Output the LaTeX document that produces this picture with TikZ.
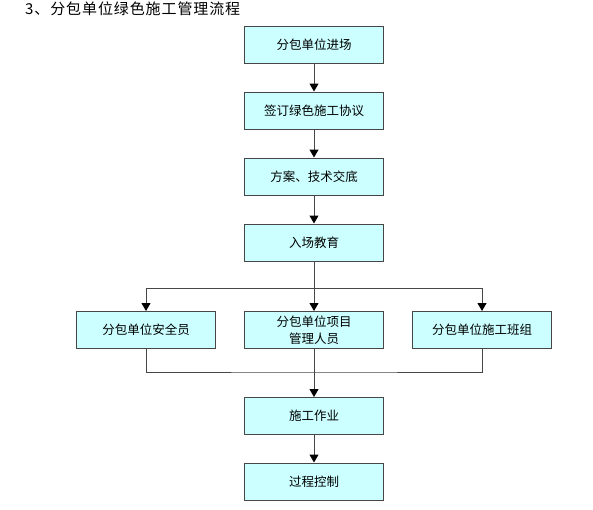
\documentclass[tikz,border=0pt]{standalone}
\usepackage{fontspec}
\setmainfont{Noto Sans CJK SC}
\usetikzlibrary{arrows.meta}
\definecolor{boxfill}{RGB}{204,255,255}
\definecolor{boxline}{RGB}{70,70,70}
\tikzset{
  stage/.style={draw=boxline, fill=boxfill, line width=1pt, minimum width=139pt,
    minimum height=37pt, inner sep=0pt, align=center,
    font=\fontsize{12.5}{17}\selectfont},
  flow/.style={draw=boxline, line width=1pt}
}
\begin{document}
\begin{tikzpicture}[x=1pt, y=-1pt, >={Triangle[width=9pt,length=8pt,color=black]}]
  \useasboundingbox (0,0) rectangle (593,509);
  \node [anchor=base west, inner sep=0pt, font=\fontsize{15}{15}\selectfont\addfontfeature{LetterSpace=6}] (title) at (25,14) {3、分包单位绿色施工管理流程};

  % main column
  \node [stage] (enter)  at (314,44.5)  {分包单位进场};
  \node [stage] (sign)   at (314,110.5) {签订绿色施工协议};
  \node [stage] (plan)   at (314,176.5) {方案、技术交底};
  \node [stage] (edu)    at (314,242.5) {入场教育};

  % the three parties
  \node [stage] (safety) at (146,330) {分包单位安全员};
  \node [stage] (staff)  at (314,330) {分包单位项目\\管理人员};
  \node [stage] (team)   at (482,330) {分包单位施工班组};

  \node [stage] (work)   at (314,416) {施工作业};
  \node [stage] (ctrl)   at (314,481.5) {过程控制};

  \draw [flow, ->] (enter) -- (sign);
  \draw [flow, ->] (sign) -- (plan);
  \draw [flow, ->] (plan) -- (edu);

  \coordinate (split) at (314,288);
  \coordinate (merge) at (314,372);
  \draw [flow] (edu) -- (split);
  \draw [flow, ->] (split) -- (staff);
  \draw [flow, ->] (split) -| (safety);
  \draw [flow, ->] (split) -| (team);
  \draw [flow] (safety) |- (merge) -| (team);
  \draw [flow, ->] (staff) -- (work);
  \draw [flow, ->] (work) -- (ctrl);
\end{tikzpicture}
\end{document}
